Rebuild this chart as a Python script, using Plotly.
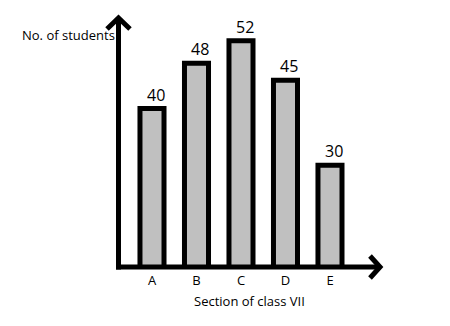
import plotly.graph_objects as go

# ---- data ----
sections = ["A", "B", "C", "D", "E"]
students = [40, 48, 52, 45, 30]
x_title = "Section of class VII"
y_title = "No. of students"

# ---- layout geometry (pixels) ----
W, H = 450, 326
L, R, T, B = 118, 70, 18, 59
PW, PH = W - L - R, H - T - B


def px(xp):
    return (xp - L) / PW


def py(yp):
    return (H - B - yp) / PH


FONT = "Open Sans"

fig = go.Figure()
fig.add_trace(go.Bar(
    x=sections, y=students,
    width=0.54,
    marker=dict(color="#c0c0c0", line=dict(color="black", width=5)),
    hoverinfo="skip",
))

annotations = []
for s, v in zip(sections, students):
    annotations.append(dict(
        x=s, y=v, xref="x", yref="y", text=str(v), showarrow=False,
        xshift=4, yshift=14, yanchor="middle",
        font=dict(family=FONT, size=16, color="black"),
    ))

annotations.append(dict(
    x=0.5, y=py(301), xref="paper", yref="paper", text=x_title,
    showarrow=False, xanchor="center", yanchor="middle",
    font=dict(family=FONT, size=13, color="black"),
))
annotations.append(dict(
    x=px(117), y=py(35), xref="paper", yref="paper", text=y_title,
    showarrow=False, xanchor="right", yanchor="middle",
    font=dict(family=FONT, size=13, color="black"),
))

shapes = [
    # y axis
    dict(type="line", xref="paper", yref="paper",
         x0=px(118.5), x1=px(118.5), y0=py(269.5), y1=py(18),
         line=dict(color="black", width=5)),
    # x axis
    dict(type="line", xref="paper", yref="paper",
         x0=px(116), x1=px(380), y0=py(267), y1=py(267),
         line=dict(color="black", width=5)),
    # arrow heads
    dict(type="path", xref="paper", yref="paper",
         path=f"M {px(107)},{py(29)} L {px(118.5)},{py(18)} L {px(130)},{py(29)}",
         line=dict(color="black", width=5)),
    dict(type="path", xref="paper", yref="paper",
         path=f"M {px(370)},{py(256)} L {px(380)},{py(267)} L {px(370)},{py(278)}",
         line=dict(color="black", width=5)),
]

fig.update_layout(
    width=W, height=H,
    margin=dict(l=L, r=R, t=T, b=B, pad=0),
    paper_bgcolor="white", plot_bgcolor="white",
    showlegend=False,
    annotations=annotations,
    shapes=shapes,
    xaxis=dict(
        type="category", range=[-0.764, 5.124],
        showgrid=False, zeroline=False, showline=False, ticks="",
        ticklabelstandoff=4,
        tickfont=dict(family=FONT, size=13, color="black"),
        fixedrange=True,
    ),
    yaxis=dict(
        range=[12.0, 56.0], showgrid=False, zeroline=False, showline=False,
        showticklabels=False, ticks="", fixedrange=True,
    ),
)

fig.write_html("out.html", config={"displayModeBar": False})
